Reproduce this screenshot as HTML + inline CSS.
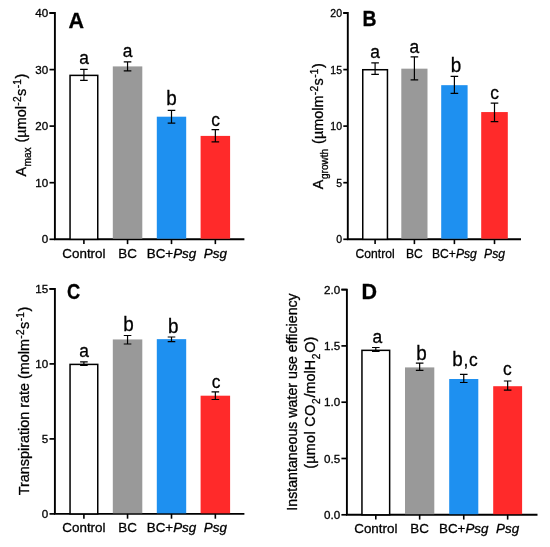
<!DOCTYPE html>
<html><head><meta charset="utf-8"><title>Figure</title>
<style>html,body{margin:0;padding:0;background:#fff}svg{display:block}text{font-family:"Liberation Sans", sans-serif;fill:#000;stroke:#000;stroke-width:0.3px}</style>
</head><body>
<svg width="550" height="547" viewBox="0 0 550 547">
<rect width="550" height="547" fill="#fff"/>
<path d="M49.50 13.00H54.90V239.30H244.40" fill="none" stroke="#000" stroke-width="1.9" stroke-linejoin="miter"/>
<path d="M49.50 13.00H54.90" stroke="#000" stroke-width="1.7"/>
<text transform="translate(48.20 17.10) scale(1 1)" font-size="11.6" text-anchor="end">40</text>
<path d="M49.50 69.60H54.90" stroke="#000" stroke-width="1.7"/>
<text transform="translate(48.20 73.70) scale(1 1)" font-size="11.6" text-anchor="end">30</text>
<path d="M49.50 126.10H54.90" stroke="#000" stroke-width="1.7"/>
<text transform="translate(48.20 130.20) scale(1 1)" font-size="11.6" text-anchor="end">20</text>
<path d="M49.50 182.70H54.90" stroke="#000" stroke-width="1.7"/>
<text transform="translate(48.20 186.80) scale(1 1)" font-size="11.6" text-anchor="end">10</text>
<path d="M49.50 239.30H54.90" stroke="#000" stroke-width="1.7"/>
<text transform="translate(48.20 243.40) scale(1 1)" font-size="11.6" text-anchor="end">0</text>
<rect x="70.05" y="75.38" width="27.70" height="163.92" fill="#fff" stroke="#000" stroke-width="1.5"/>
<path d="M83.90 239.30V244.10" stroke="#000" stroke-width="1.6"/>
<path d="M83.90 69.30V80.30M80.10 69.30H87.70M80.10 80.30H87.70" stroke="#000" stroke-width="1.2" fill="none"/>
<text transform="translate(83.90 257.60) scale(1 1)" font-size="13.4" text-anchor="middle">Control</text>
<rect x="112.80" y="66.41" width="29.50" height="172.29" fill="#999999"/>
<path d="M127.55 239.30V244.10" stroke="#000" stroke-width="1.6"/>
<path d="M127.55 61.90V70.90M123.75 61.90H131.35M123.75 70.90H131.35" stroke="#000" stroke-width="1.2" fill="none"/>
<text transform="translate(127.55 257.60) scale(1 1)" font-size="13.4" text-anchor="middle">BC</text>
<rect x="156.80" y="116.70" width="29.40" height="122.01" fill="#1E90F0"/>
<path d="M171.50 239.30V244.10" stroke="#000" stroke-width="1.6"/>
<path d="M171.50 110.40V123.20M167.70 110.40H175.30M167.70 123.20H175.30" stroke="#000" stroke-width="1.2" fill="none"/>
<text transform="translate(171.50 257.60) scale(1 1)" font-size="13.4" text-anchor="middle">BC+<tspan font-style="italic">Psg</tspan></text>
<rect x="200.60" y="135.91" width="29.50" height="102.80" fill="#FF2A2A"/>
<path d="M215.35 239.30V244.10" stroke="#000" stroke-width="1.6"/>
<path d="M215.35 129.70V141.90M211.55 129.70H219.15M211.55 141.90H219.15" stroke="#000" stroke-width="1.2" fill="none"/>
<text transform="translate(215.35 257.60) scale(1 1)" font-size="13.4" text-anchor="middle"><tspan font-style="italic">Psg</tspan></text>
<text transform="translate(84.20 63.50) scale(0.93 1)" font-size="18.7" stroke-width="0.2" text-anchor="middle">a</text>
<text transform="translate(127.50 56.50) scale(0.93 1)" font-size="18.7" stroke-width="0.2" text-anchor="middle">a</text>
<text transform="translate(171.50 105.30) scale(0.93 1)" font-size="18.7" stroke-width="0.2" text-anchor="middle"><tspan font-size="20.3">b</tspan></text>
<text transform="translate(215.50 125.50) scale(0.93 1)" font-size="18.7" stroke-width="0.2" text-anchor="middle">c</text>
<text transform="translate(68.60 27.80) scale(1.0 1)" font-size="21.5" font-weight="bold" stroke-width="0.1">A</text>
<path d="M343.30 13.00H347.80V239.30H521.00" fill="none" stroke="#000" stroke-width="1.9" stroke-linejoin="miter"/>
<path d="M343.30 13.00H347.80" stroke="#000" stroke-width="1.7"/>
<text transform="translate(342.00 17.10) scale(0.905 1)" font-size="11.6" text-anchor="end">20</text>
<path d="M343.30 69.60H347.80" stroke="#000" stroke-width="1.7"/>
<text transform="translate(342.00 73.70) scale(0.905 1)" font-size="11.6" text-anchor="end">15</text>
<path d="M343.30 126.10H347.80" stroke="#000" stroke-width="1.7"/>
<text transform="translate(342.00 130.20) scale(0.905 1)" font-size="11.6" text-anchor="end">10</text>
<path d="M343.30 182.70H347.80" stroke="#000" stroke-width="1.7"/>
<text transform="translate(342.00 186.80) scale(0.905 1)" font-size="11.6" text-anchor="end">5</text>
<path d="M343.30 239.30H347.80" stroke="#000" stroke-width="1.7"/>
<text transform="translate(342.00 243.40) scale(0.905 1)" font-size="11.6" text-anchor="end">0</text>
<rect x="362.75" y="69.73" width="24.70" height="169.57" fill="#fff" stroke="#000" stroke-width="1.5"/>
<path d="M375.10 239.30V244.10" stroke="#000" stroke-width="1.6"/>
<path d="M375.10 62.90V74.30M371.30 62.90H378.90M371.30 74.30H378.90" stroke="#000" stroke-width="1.2" fill="none"/>
<text transform="translate(375.10 257.60) scale(0.905 1)" font-size="13.4" text-anchor="middle">Control</text>
<rect x="401.30" y="68.67" width="26.20" height="170.03" fill="#999999"/>
<path d="M414.40 239.30V244.10" stroke="#000" stroke-width="1.6"/>
<path d="M414.40 56.80V79.90M410.60 56.80H418.20M410.60 79.90H418.20" stroke="#000" stroke-width="1.2" fill="none"/>
<text transform="translate(414.40 257.60) scale(0.905 1)" font-size="13.4" text-anchor="middle">BC</text>
<rect x="441.20" y="85.17" width="26.40" height="153.53" fill="#1E90F0"/>
<path d="M454.40 239.30V244.10" stroke="#000" stroke-width="1.6"/>
<path d="M454.40 76.30V93.40M450.60 76.30H458.20M450.60 93.40H458.20" stroke="#000" stroke-width="1.2" fill="none"/>
<text transform="translate(454.40 257.60) scale(0.905 1)" font-size="13.4" text-anchor="middle">BC+<tspan font-style="italic">Psg</tspan></text>
<rect x="481.20" y="112.06" width="26.60" height="126.64" fill="#FF2A2A"/>
<path d="M494.50 239.30V244.10" stroke="#000" stroke-width="1.6"/>
<path d="M494.50 103.10V121.60M490.70 103.10H498.30M490.70 121.60H498.30" stroke="#000" stroke-width="1.2" fill="none"/>
<text transform="translate(494.50 257.60) scale(0.905 1)" font-size="13.4" text-anchor="middle"><tspan font-style="italic">Psg</tspan></text>
<text transform="translate(375.00 57.80) scale(0.93 1)" font-size="18.7" stroke-width="0.2" text-anchor="middle">a</text>
<text transform="translate(414.40 53.00) scale(0.93 1)" font-size="18.7" stroke-width="0.2" text-anchor="middle">a</text>
<text transform="translate(456.00 71.50) scale(0.93 1)" font-size="18.7" stroke-width="0.2" text-anchor="middle"><tspan font-size="20.3">b</tspan></text>
<text transform="translate(494.50 98.50) scale(0.93 1)" font-size="18.7" stroke-width="0.2" text-anchor="middle">c</text>
<text transform="translate(362.60 26.00) scale(0.9 1)" font-size="21.5" font-weight="bold" stroke-width="0.1">B</text>
<path d="M49.50 288.90H54.90V513.90H244.40" fill="none" stroke="#000" stroke-width="1.9" stroke-linejoin="miter"/>
<path d="M49.50 288.90H54.90" stroke="#000" stroke-width="1.7"/>
<text transform="translate(48.20 293.00) scale(1 1)" font-size="11.6" text-anchor="end">15</text>
<path d="M49.50 363.90H54.90" stroke="#000" stroke-width="1.7"/>
<text transform="translate(48.20 368.00) scale(1 1)" font-size="11.6" text-anchor="end">10</text>
<path d="M49.50 438.90H54.90" stroke="#000" stroke-width="1.7"/>
<text transform="translate(48.20 443.00) scale(1 1)" font-size="11.6" text-anchor="end">5</text>
<path d="M49.50 513.90H54.90" stroke="#000" stroke-width="1.7"/>
<text transform="translate(48.20 518.00) scale(1 1)" font-size="11.6" text-anchor="end">0</text>
<rect x="70.05" y="364.40" width="27.70" height="149.50" fill="#fff" stroke="#000" stroke-width="1.5"/>
<path d="M83.90 513.90V518.70" stroke="#000" stroke-width="1.6"/>
<path d="M83.90 361.80V365.40M80.10 361.80H87.70M80.10 365.40H87.70" stroke="#000" stroke-width="1.2" fill="none"/>
<text transform="translate(83.90 532.40) scale(1 1)" font-size="13.4" text-anchor="middle">Control</text>
<rect x="112.80" y="339.45" width="29.50" height="173.85" fill="#999999"/>
<path d="M127.55 513.90V518.70" stroke="#000" stroke-width="1.6"/>
<path d="M127.55 335.50V344.00M123.75 335.50H131.35M123.75 344.00H131.35" stroke="#000" stroke-width="1.2" fill="none"/>
<text transform="translate(127.55 532.40) scale(1 1)" font-size="13.4" text-anchor="middle">BC</text>
<rect x="156.80" y="339.15" width="29.40" height="174.15" fill="#1E90F0"/>
<path d="M171.50 513.90V518.70" stroke="#000" stroke-width="1.6"/>
<path d="M171.50 337.00V341.60M167.70 337.00H175.30M167.70 341.60H175.30" stroke="#000" stroke-width="1.2" fill="none"/>
<text transform="translate(171.50 532.40) scale(1 1)" font-size="13.4" text-anchor="middle">BC+<tspan font-style="italic">Psg</tspan></text>
<rect x="200.60" y="395.70" width="29.50" height="117.60" fill="#FF2A2A"/>
<path d="M215.35 513.90V518.70" stroke="#000" stroke-width="1.6"/>
<path d="M215.35 391.80V399.50M211.55 391.80H219.15M211.55 399.50H219.15" stroke="#000" stroke-width="1.2" fill="none"/>
<text transform="translate(215.35 532.40) scale(1 1)" font-size="13.4" text-anchor="middle"><tspan font-style="italic">Psg</tspan></text>
<text transform="translate(84.20 357.00) scale(0.93 1)" font-size="18.7" stroke-width="0.2" text-anchor="middle">a</text>
<text transform="translate(128.40 330.60) scale(0.93 1)" font-size="18.7" stroke-width="0.2" text-anchor="middle"><tspan font-size="20.3">b</tspan></text>
<text transform="translate(173.30 333.20) scale(0.93 1)" font-size="18.7" stroke-width="0.2" text-anchor="middle"><tspan font-size="20.3">b</tspan></text>
<text transform="translate(216.00 388.00) scale(0.93 1)" font-size="18.7" stroke-width="0.2" text-anchor="middle">c</text>
<text transform="translate(67.00 298.80) scale(0.85 1)" font-size="21.5" font-weight="bold" stroke-width="0.1">C</text>
<path d="M341.40 289.60H346.90V514.80H537.50" fill="none" stroke="#000" stroke-width="1.9" stroke-linejoin="miter"/>
<path d="M341.40 289.60H346.90" stroke="#000" stroke-width="1.7"/>
<text transform="translate(340.10 293.70) scale(1 1)" font-size="11.6" text-anchor="end">2.0</text>
<path d="M341.40 345.90H346.90" stroke="#000" stroke-width="1.7"/>
<text transform="translate(340.10 350.00) scale(1 1)" font-size="11.6" text-anchor="end">1.5</text>
<path d="M341.40 402.20H346.90" stroke="#000" stroke-width="1.7"/>
<text transform="translate(340.10 406.30) scale(1 1)" font-size="11.6" text-anchor="end">1.0</text>
<path d="M341.40 458.50H346.90" stroke="#000" stroke-width="1.7"/>
<text transform="translate(340.10 462.60) scale(1 1)" font-size="11.6" text-anchor="end">0.5</text>
<path d="M341.40 514.80H346.90" stroke="#000" stroke-width="1.7"/>
<text transform="translate(340.10 518.90) scale(1 1)" font-size="11.6" text-anchor="end">0.0</text>
<rect x="361.95" y="350.34" width="27.70" height="164.46" fill="#fff" stroke="#000" stroke-width="1.5"/>
<path d="M375.80 514.80V519.60" stroke="#000" stroke-width="1.6"/>
<path d="M375.80 347.50V351.50M372.00 347.50H379.60M372.00 351.50H379.60" stroke="#000" stroke-width="1.2" fill="none"/>
<text transform="translate(375.80 533.00) scale(1 1)" font-size="13.4" text-anchor="middle">Control</text>
<rect x="405.00" y="367.41" width="29.30" height="146.79" fill="#999999"/>
<path d="M419.65 514.80V519.60" stroke="#000" stroke-width="1.6"/>
<path d="M419.65 363.10V370.30M415.85 363.10H423.45M415.85 370.30H423.45" stroke="#000" stroke-width="1.2" fill="none"/>
<text transform="translate(419.65 533.00) scale(1 1)" font-size="13.4" text-anchor="middle">BC</text>
<rect x="449.20" y="379.00" width="29.10" height="135.20" fill="#1E90F0"/>
<path d="M463.75 514.80V519.60" stroke="#000" stroke-width="1.6"/>
<path d="M463.75 374.40V382.50M459.95 374.40H467.55M459.95 382.50H467.55" stroke="#000" stroke-width="1.2" fill="none"/>
<text transform="translate(463.75 533.00) scale(1 1)" font-size="13.4" text-anchor="middle">BC+<tspan font-style="italic">Psg</tspan></text>
<rect x="493.20" y="386.21" width="28.90" height="127.99" fill="#FF2A2A"/>
<path d="M507.65 514.80V519.60" stroke="#000" stroke-width="1.6"/>
<path d="M507.65 381.00V390.20M503.85 381.00H511.45M503.85 390.20H511.45" stroke="#000" stroke-width="1.2" fill="none"/>
<text transform="translate(507.65 533.00) scale(1 1)" font-size="13.4" text-anchor="middle"><tspan font-style="italic">Psg</tspan></text>
<text transform="translate(377.40 343.00) scale(0.93 1)" font-size="18.7" stroke-width="0.2" text-anchor="middle">a</text>
<text transform="translate(421.50 359.50) scale(0.93 1)" font-size="18.7" stroke-width="0.2" text-anchor="middle"><tspan font-size="20.3">b</tspan></text>
<text transform="translate(465.00 365.70) scale(0.93 1)" font-size="18.7" stroke-width="0.2" text-anchor="middle"><tspan font-size="20.3">b</tspan><tspan dx="0.8">,</tspan><tspan dx="0.8">c</tspan></text>
<text transform="translate(507.30 375.40) scale(0.93 1)" font-size="18.7" stroke-width="0.2" text-anchor="middle">c</text>
<text transform="translate(361.50 299.30) scale(1.0 1)" font-size="21.5" font-weight="bold" stroke-width="0.1">D</text>
<text transform="translate(26.40 125.20) rotate(-90)" font-size="14.4" text-anchor="middle">A<tspan font-size="10.1" dy="5" dx="0.6">max</tspan><tspan dy="-5" dx="0.9" font-size="14.4">​</tspan> (µmol<tspan font-size="10.1" dy="-5" dx="0.4" letter-spacing="0.3">-2</tspan><tspan dy="5" dx="0.2" font-size="14.4">​</tspan>s<tspan font-size="10.1" dy="-5" dx="0.4" letter-spacing="0.3">-1</tspan><tspan dy="5" dx="0.2" font-size="14.4">​</tspan>)</text>
<text transform="translate(322.80 126.30) rotate(-90)" font-size="14.4" text-anchor="middle">A<tspan font-size="10.1" dy="5" dx="0.6">growth</tspan><tspan dy="-5" dx="0.9" font-size="14.4">​</tspan> (µmolm<tspan font-size="10.1" dy="-5" dx="0.4" letter-spacing="0.3">-2</tspan><tspan dy="5" dx="0.2" font-size="14.4">​</tspan>s<tspan font-size="10.1" dy="-5" dx="0.4" letter-spacing="0.3">-1</tspan><tspan dy="5" dx="0.2" font-size="14.4">​</tspan>)</text>
<text transform="translate(29.00 401.00) rotate(-90)" font-size="14.4" text-anchor="middle">Transpiration rate (molm<tspan font-size="10.1" dy="-5" dx="0.4" letter-spacing="0.3">-2</tspan><tspan dy="5" dx="0.2" font-size="14.4">​</tspan>s<tspan font-size="10.1" dy="-5" dx="0.4" letter-spacing="0.3">-1</tspan><tspan dy="5" dx="0.2" font-size="14.4">​</tspan>)</text>
<text transform="translate(297.10 402.00) rotate(-90)" font-size="14.2" text-anchor="middle">Instantaneous water use efficiency</text>
<text transform="translate(314.70 402.80) rotate(-90)" font-size="14.4" text-anchor="middle"><tspan letter-spacing="0.3">(µmol CO</tspan><tspan font-size="10.1" dy="5" dx="0.6">2</tspan><tspan dy="-5" dx="0.9" font-size="14.4">​</tspan>/molH<tspan font-size="10.1" dy="5" dx="0.6">2</tspan><tspan dy="-5" dx="0.9" font-size="14.4">​</tspan>O)</text>
</svg>
</body></html>
